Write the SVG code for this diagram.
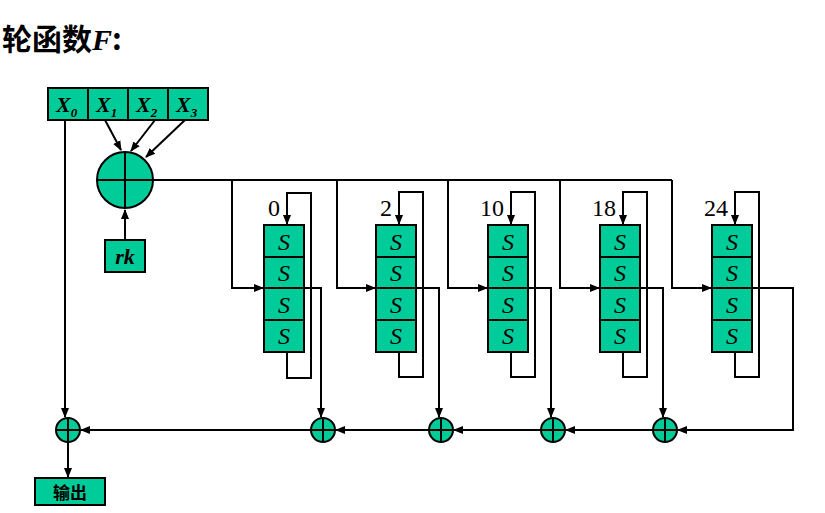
<svg xmlns="http://www.w3.org/2000/svg" width="825" height="513" viewBox="0 0 825 513">
<style>
.f{fill:#00CC99;stroke:#000;stroke-width:2}
.l{fill:none;stroke:#000;stroke-width:2}
.s{font-family:"Liberation Serif",serif;font-style:italic;font-size:24px;text-anchor:middle}
.n{font-family:"Liberation Serif",serif;font-size:24px;text-anchor:end}
.x{font-family:"Liberation Serif",serif;font-style:italic;font-weight:bold;font-size:22px}
.sub{font-family:"Liberation Serif",serif;font-size:13px}
</style>
<defs>
<marker id="a" markerWidth="10" markerHeight="10" refX="9" refY="5" orient="auto" markerUnits="userSpaceOnUse"><path d="M0,1 L10,5 L0,9 z" fill="#000"/></marker>
<g id="box"><rect class="f" x="0" y="0" width="40" height="127"/><path class="l" d="M0,32H40M0,63H40M0,95H40"/><text class="s" x="20" y="25">S</text><text class="s" x="20" y="56">S</text><text class="s" x="20" y="88">S</text><text class="s" x="20" y="119">S</text></g>
<g id="xo"><circle class="f" cx="0" cy="0" r="12"/><path class="l" d="M-12,0H12M0,-12V12"/></g>
</defs>
<text x="2" y="50" font-family="'Noto Sans CJK SC',sans-serif" font-size="30" font-weight="bold">轮函数<tspan font-family="'Liberation Serif',serif" font-style="italic">F</tspan>:</text>
<g id="X">
<rect class="f" x="48" y="88" width="40" height="32"/><rect class="f" x="88" y="88" width="40" height="32"/><rect class="f" x="128" y="88" width="40" height="32"/><rect class="f" x="168" y="88" width="40" height="32"/>
<text class="x" x="56" y="112">X<tspan class="sub" dy="5">0</tspan></text>
<text class="x" x="96" y="112">X<tspan class="sub" dy="5">1</tspan></text>
<text class="x" x="136" y="112">X<tspan class="sub" dy="5">2</tspan></text>
<text class="x" x="176" y="112">X<tspan class="sub" dy="5">3</tspan></text>
</g>
<g id="xor"><circle class="f" cx="125" cy="180" r="28"/><path class="l" d="M97,180H153M125,152V208"/></g>
<g id="rk"><rect class="f" x="105" y="240" width="40" height="32"/><text class="x" x="125" y="264" text-anchor="middle" font-size="24">rk</text></g>
<g id="s0"><use href="#box" x="264" y="225"/><text class="n" x="280" y="216">0</text></g>
<g id="s2"><use href="#box" x="376" y="225"/><text class="n" x="392" y="216">2</text></g>
<g id="s10"><use href="#box" x="488" y="225"/><text class="n" x="504" y="216">10</text></g>
<g id="s18"><use href="#box" x="600" y="225"/><text class="n" x="616" y="216">18</text></g>
<g id="s24"><use href="#box" x="712" y="225"/><text class="n" x="728" y="216">24</text></g>
<g id="o1"><use href="#xo" x="68" y="430"/></g>
<g id="o2"><use href="#xo" x="323" y="430"/></g>
<g id="o3"><use href="#xo" x="441" y="430"/></g>
<g id="o4"><use href="#xo" x="553" y="430"/></g>
<g id="o5"><use href="#xo" x="665" y="430"/></g>
<g id="out"><rect class="f" x="35" y="478" width="70" height="27"/><text x="70" y="499" text-anchor="middle" font-family="'Noto Sans CJK SC',sans-serif" font-size="17" font-weight="bold">输出</text></g>
<g id="connectors" class="l" fill="none" stroke="#000" stroke-width="2">
<path d="M105,120L121,150" marker-end="url(#a)"/>
<path d="M155,120L131,151" marker-end="url(#a)"/>
<path d="M185,120L146,157" marker-end="url(#a)"/>
<path d="M125,240V210" marker-end="url(#a)"/>
<path d="M153,180H672"/>
<path d="M232,180V288H263" marker-end="url(#a)"/>
<path d="M337,180V288H375" marker-end="url(#a)"/>
<path d="M448,180V288H487" marker-end="url(#a)"/>
<path d="M560,180V288H599" marker-end="url(#a)"/>
<path d="M672,180V288H711" marker-end="url(#a)"/>
<path d="M287,352V378H311V193H287V224" marker-end="url(#a)"/>
<path d="M399,352V377H423V192H399V224" marker-end="url(#a)"/>
<path d="M511,352V377H535V192H511V224" marker-end="url(#a)"/>
<path d="M623,352V377H647V192H623V224" marker-end="url(#a)"/>
<path d="M735,352V377H759V192H735V224" marker-end="url(#a)"/>
<path d="M304,288H321V417" marker-end="url(#a)"/>
<path d="M416,288H439V417" marker-end="url(#a)"/>
<path d="M528,288H551V417" marker-end="url(#a)"/>
<path d="M640,288H663V417" marker-end="url(#a)"/>
<path d="M752,288H793V430H678" marker-end="url(#a)"/>
<path d="M653,430H566" marker-end="url(#a)"/>
<path d="M541,430H454" marker-end="url(#a)"/>
<path d="M429,430H336" marker-end="url(#a)"/>
<path d="M311,430H81" marker-end="url(#a)"/>
<path d="M65,120V417" marker-end="url(#a)"/>
<path d="M68,442V477" marker-end="url(#a)"/>
</g>
</svg>
